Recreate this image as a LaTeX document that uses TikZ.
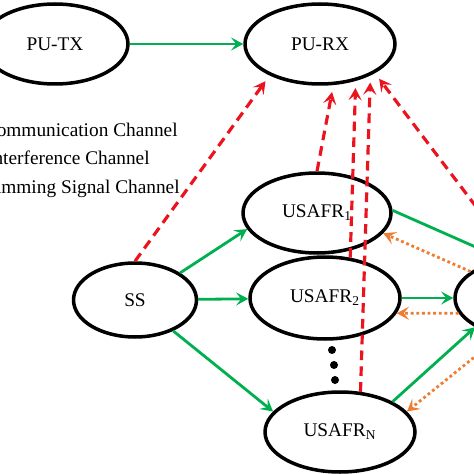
\documentclass[tikz,border=0pt]{standalone}
\usepackage{fontspec}
\setmainfont{Liberation Serif}
\usetikzlibrary{shapes.geometric, arrows.meta}
\definecolor{commgreen}{RGB}{0,176,80}
\definecolor{intfred}{RGB}{235,20,30}
\definecolor{jamorange}{RGB}{237,125,49}
\begin{document}
\begin{tikzpicture}[font=\fontsize{11}{13}\selectfont,
        radio/.style={ellipse, draw, line width=2pt, fill=white, inner sep=0pt, minimum width=3cm, minimum height=1.6cm},
        comm/.style={commgreen, line width=1.6pt, -{Stealth[length=7pt,width=7.5pt,inset=3pt]}},
        intf/.style={intfred, line width=1.8pt, dash pattern=on 5.5pt off 3.5pt, shorten >=4pt, -{Stealth[length=7pt,width=7.5pt,inset=3pt]}},
        jam/.style={jamorange, line width=1.6pt, dash pattern=on 1.6pt off 1.6pt, -{Stealth[length=7pt,width=7.5pt,inset=3pt]}}]
        \useasboundingbox (0, 0) rectangle (0.02* 474, -0.02* 474);

        \node[radio, minimum width=2.92cm] at (0.02* 55, -0.02* 44)  (ptx)    {PU-TX};
        \node[radio] at (0.02* 320, -0.02* 44)  (prx)    {PU-RX};
        \node[radio, minimum width=2.46cm, minimum height=1.48cm] at (0.02* 135, -0.02* 300)  (ss)    {SS};
        \node[radio, minimum width=2.96cm] at (0.02* 317, -0.02* 213)  (u1)    {USAFR\textsubscript{1}};
        \node[radio, minimum height=1.64cm] at (0.02* 325, -0.02* 298)  (u2)    {USAFR\textsubscript{2}};
        \node[radio] at (0.02* 340, -0.02* 432)  (un)    {USAFR\textsubscript{N}};
        \node[radio] at (0.02* 530, -0.02* 298)  (d)    {};

        \node[anchor=base east, inner sep=0pt] at (0.02* 178, -0.02* 137)  (lcomm)    {Communication Channel};
        \node[anchor=base east, inner sep=0pt] at (0.02* 150, -0.02* 165)  (lintf)    {Interference Channel};
        \node[anchor=base east, inner sep=0pt] at (0.02* 180, -0.02* 193)  (ljam)    {Jamming Signal Channel};

        \foreach \x/\y in {332/350, 334/365, 335/380}
          \fill (0.02* \x, -0.02* \y) circle (0.08);

        \draw[comm]  (ptx) -- (prx);
        \draw[comm]  (ss.31) -- (u1.193);
        \draw[comm]  (ss) -- (u2);
        \draw[comm]  (ss.-39) -- (un.163);

        \draw[comm]  (u1.2) -- (d.125);
        \draw[comm]  (u2) -- (d);
        \draw[comm]  (un.30) -- (d.208);

        \draw[intf]  (ss.north) -- (prx.212);
        \draw[intf]  (u1.north) -- (prx.-72);
        \draw[intf]  (u2.58) -- (prx.-46);
        \draw[intf]  (un.63) -- (prx.-32);
        \draw[intf]  (d.111) -- (prx.-28);

        \draw[jam]  (d.156) -- (u1.-17);
        \draw[jam]  (d.192) -- (u2.-12);
        \draw[jam]  (d.232) -- (un.17);
      \end{tikzpicture}
\end{document}
